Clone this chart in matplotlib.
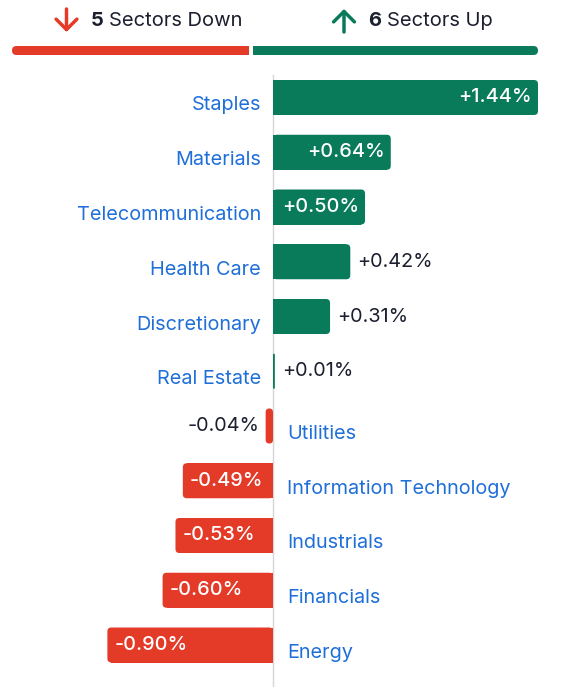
import matplotlib
matplotlib.use("Agg")
import matplotlib.pyplot as plt
from matplotlib.patches import FancyBboxPatch, BoxStyle

plt.rcParams['font.family'] = ['Inter', 'DejaVu Sans']

sectors = ["Staples", "Materials", "Telecommunication", "Health Care", "Discretionary",
           "Real Estate", "Utilities", "Information Technology", "Industrials",
           "Financials", "Energy"]
changes = [1.44, 0.64, 0.50, 0.42, 0.31, 0.01, -0.04, -0.49, -0.53, -0.60, -0.90]
n_down = 5
n_up = 6

GREEN = "#0a7b5a"
RED = "#e43a28"
BLUE = "#1f6fd8"
DARK = "#1b1f2e"
FS = 14.3

W, H = 570, 687
fig = plt.figure(figsize=(W / 100, H / 100), dpi=100)

# main axes: x in percent, y in rows
zero_px = 273
px_per_pct = (538 - 273) / 1.44
row0_px = 97.5
row_px = 54.75
ax = fig.add_axes([0, 0, 1, 1])
ax.set_xlim(-zero_px / px_per_pct, (W - zero_px) / px_per_pct)
ax.set_ylim((H - row0_px) / row_px, -row0_px / row_px)
ax.axis("off")

px_x = 1 / px_per_pct   # one pixel in x units
px_y = 1 / row_px       # one pixel in y units
aspect = px_per_pct / row_px
bar_h = 35 * px_y

ax.plot([0, 0], [(75 - row0_px) / row_px, (H - row0_px) / row_px],
        color="#d6d6d6", lw=1, zorder=1)

for i, (name, v) in enumerate(zip(sectors, changes)):
    col = GREEN if v >= 0 else RED
    sgn = 1 if v >= 0 else -1
    w = abs(v)
    r = min(4 * px_x, w / 2)
    x0 = 0 if v >= 0 else v
    box = FancyBboxPatch((x0, i - bar_h / 2), w, bar_h,
                         boxstyle=BoxStyle.Round(pad=0, rounding_size=r),
                         mutation_aspect=aspect, fc=col, ec="none", zorder=2)
    ax.add_patch(box)
    if w > 2 * r:
        ax.barh(i, v - sgn * r, height=bar_h, left=0, color=col, zorder=2)

    txt = f"{v:+.2f}%"
    inside = w > 0.45
    if v >= 0:
        ax.text(-12 * px_x, i + 8 * px_y, name, ha="right", va="center",
                color=BLUE, fontsize=FS)
        if inside:
            ax.text(v - 6 * px_x, i, txt, ha="right", va="center",
                    color="white", fontsize=FS, fontweight="medium", zorder=3)
        else:
            ax.text(v + 7 * px_x, i, txt, ha="left", va="center",
                    color=DARK, fontsize=FS, zorder=3)
    else:
        ax.text(14 * px_x, i + 8 * px_y, name, ha="left", va="center",
                color=BLUE, fontsize=FS)
        if inside:
            ax.text(v + 7 * px_x, i, txt, ha="left", va="center",
                    color="white", fontsize=FS, fontweight="medium", zorder=3)
        else:
            ax.text(v - 6 * px_x, i, txt, ha="right", va="center",
                    color=DARK, fontsize=FS, zorder=3)

# header: proportion bar of sectors down / up
hx0, hx1 = 12, 538
hax = fig.add_axes([hx0 / W, 1 - 60 / H, (hx1 - hx0) / W, 60 / H])
total = n_down + n_up
hax.set_xlim(0, total)
hax.set_ylim(60, 0)
hax.axis("off")
hpx = total / (hx1 - hx0)
hasp = 1 / hpx
gap = 2 * hpx
for x0, x1, col, left_round in [(0, n_down - gap, RED, True), (n_down + gap, total, GREEN, False)]:
    rr = 4.5 * hpx
    hax.add_patch(FancyBboxPatch((x0, 46), x1 - x0, 9,
                                 boxstyle=BoxStyle.Round(pad=0, rounding_size=rr),
                                 mutation_aspect=hasp, fc=col, ec="none"))
    if left_round:
        hax.add_patch(plt.Rectangle((x1 - 2 * rr, 46), 2 * rr, 9, fc=col, ec="none"))
    else:
        hax.add_patch(plt.Rectangle((x0, 46), 2 * rr, 9, fc=col, ec="none"))

def hx(px):
    return (px - hx0) * hpx

arrow = dict(arrowstyle="->,head_length=0.75,head_width=0.75", lw=2.5,
             shrinkA=0, shrinkB=0)
hax.annotate("", xy=(hx(66.5), 32), xytext=(hx(66.5), 9),
             arrowprops=dict(arrow, color=RED))
hax.annotate("", xy=(hx(344), 9), xytext=(hx(344), 32),
             arrowprops=dict(arrow, color=GREEN))
hax.text(hx(91), 21, str(n_down), ha="left", va="center", fontsize=14.5,
         fontweight="bold", color=DARK)
hax.text(hx(109), 21, "Sectors Down", ha="left", va="center", fontsize=14.5, color=DARK)
hax.text(hx(368), 21, str(n_up), ha="left", va="center", fontsize=14.5,
         fontweight="bold", color=DARK)
hax.text(hx(387), 21, "Sectors Up", ha="left", va="center", fontsize=14.5, color=DARK)

fig.savefig("out.png", dpi=100)
